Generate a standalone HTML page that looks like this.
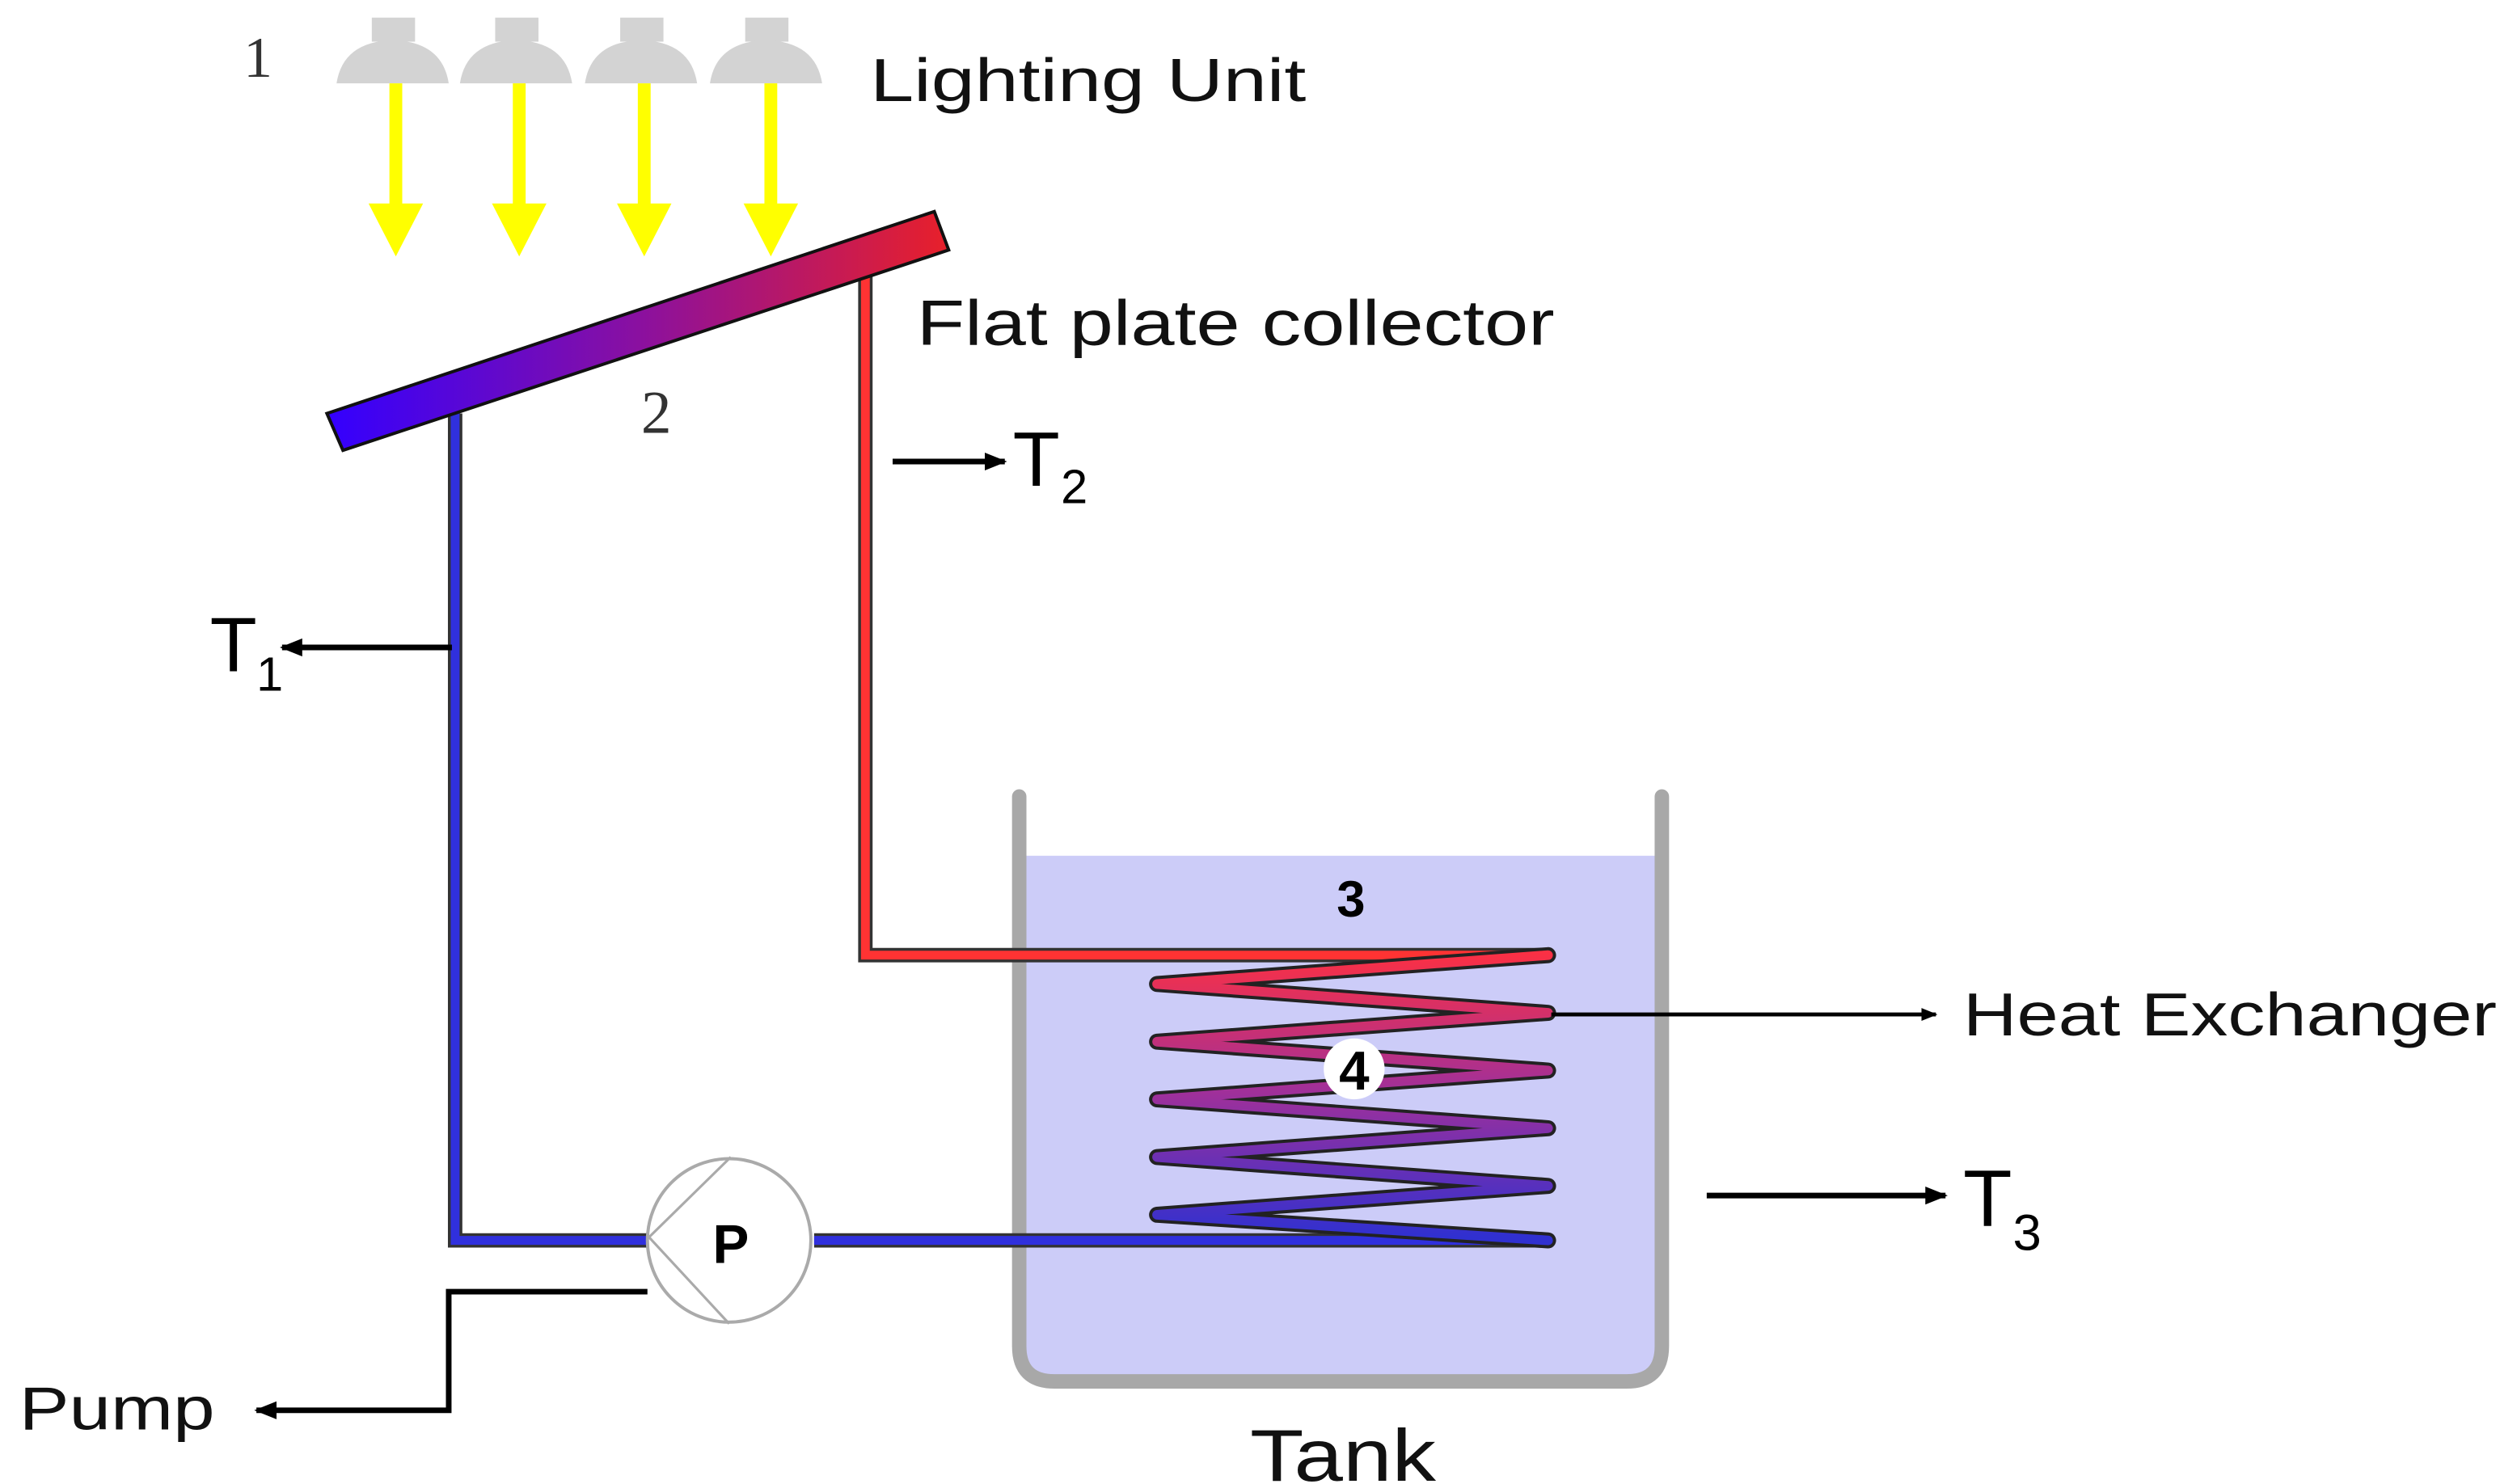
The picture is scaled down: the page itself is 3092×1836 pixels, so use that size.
<!DOCTYPE html>
<html><head><meta charset="utf-8"><style>html,body{margin:0;padding:0;background:#fff}svg{display:block}</style></head>
<body>
<svg width="3092" height="1836" viewBox="0 0 1560 926" preserveAspectRatio="none" xmlns="http://www.w3.org/2000/svg" font-family="Liberation Sans, sans-serif">
<defs>
<linearGradient id="col" x1="204" y1="0" x2="592" y2="0" gradientUnits="userSpaceOnUse"><stop offset="0" stop-color="#3300ff"/><stop offset="0.5" stop-color="#8a10a0"/><stop offset="1" stop-color="#e8202a"/></linearGradient>
<linearGradient id="coil" x1="0" y1="591" x2="0" y2="772" gradientUnits="userSpaceOnUse"><stop offset="0" stop-color="#ff3040"/><stop offset="0.5" stop-color="#a0309a"/><stop offset="1" stop-color="#3030d0"/></linearGradient>
<marker id="ah" viewBox="0 0 10 10" refX="9" refY="5" markerWidth="4" markerHeight="4" orient="auto"><path d="M0,1 L10,5 L0,9 Z" fill="#000"/></marker>
</defs>
<g fill="#d3d3d3">
<rect x="232" y="11" width="27" height="15"/><path d="M210,52 Q214,26 245,25 Q276,26 280,52 Z"/>
<rect x="309" y="11" width="27" height="15"/><path d="M287,52 Q291,26 322,25 Q353,26 357,52 Z"/>
<rect x="387" y="11" width="27" height="15"/><path d="M365,52 Q369,26 400,25 Q431,26 435,52 Z"/>
<rect x="465" y="11" width="27" height="15"/><path d="M443,52 Q447,26 478,25 Q509,26 513,52 Z"/>
</g>
<g fill="#ffff00">
<rect x="243" y="52" width="8" height="76"/><path d="M230,127 L264,127 L247,160 Z"/>
<rect x="320" y="52" width="8" height="76"/><path d="M307,127 L341,127 L324,160 Z"/>
<rect x="398" y="52" width="8" height="76"/><path d="M385,127 L419,127 L402,160 Z"/>
<rect x="477" y="52" width="8" height="76"/><path d="M464,127 L498,127 L481,160 Z"/>
</g>
<text x="152" y="48" font-family="Liberation Serif, serif" font-size="36" fill="#333">1</text>
<text x="543" y="63" font-size="38" fill="#111" textLength="272" lengthAdjust="spacingAndGlyphs">Lighting Unit</text>
<!-- tank -->
<path d="M640,534 L1034,534 L1034,842 Q1034,858 1018,858 L656,858 Q640,858 640,842 Z" fill="#ccccf8"/>
<path d="M636,497 L636,840 Q636,862 658,862 L1015,862 Q1037,862 1037,840 L1037,497" fill="none" stroke="#a8a8a8" stroke-width="9" stroke-linecap="round"/>
<!-- pipes -->
<path d="M540,160 L540,596 L968,596" fill="none" stroke="#333" stroke-width="9"/>
<path d="M540,160 L540,596 L968,596" fill="none" stroke="#ff3333" stroke-width="5.5"/>
<path d="M284,258 L284,774 L404,774 M508,774 L968,774" fill="none" stroke="#333" stroke-width="9"/>
<path d="M284,258 L284,774 L404,774 M508,774 L968,774" fill="none" stroke="#3030dd" stroke-width="5.5"/>
<!-- coil -->
<polyline points="966,596 722,614 966,632 722,650 966,668 722,686 966,704 722,722 966,740 722,758 966,774" fill="none" stroke="#222" stroke-width="10" stroke-linejoin="round" stroke-linecap="round"/>
<polyline points="966,596 722,614 966,632 722,650 966,668 722,686 966,704 722,722 966,740 722,758 966,774" fill="none" stroke="url(#coil)" stroke-width="6" stroke-linejoin="round" stroke-linecap="round"/>
<circle cx="845" cy="667" r="19" fill="#fff"/>
<text x="845" y="680" font-size="34" font-weight="bold" text-anchor="middle">4</text>
<text x="843" y="572" font-size="32" font-weight="bold" text-anchor="middle">3</text>
<!-- collector -->
<path d="M204,258 L583,132 L592,156 L214,281 Z" fill="url(#col)" stroke="#111" stroke-width="2"/>
<text x="400" y="270" font-family="Liberation Serif, serif" font-size="38" fill="#333">2</text>
<text x="572" y="215" font-size="40" fill="#111" textLength="398" lengthAdjust="spacingAndGlyphs">Flat plate collector</text>
<!-- pump -->
<circle cx="455" cy="774" r="51" fill="#fff" stroke="#aaa" stroke-width="2"/>
<path d="M456,722 L405,772 L455,826" fill="none" stroke="#aaa" stroke-width="1.6"/>
<text x="456" y="788" font-size="34" font-weight="bold" text-anchor="middle">P</text>
<path d="M404,806 L280,806 L280,880 L160,880" fill="none" stroke="#000" stroke-width="3.5" marker-end="url(#ah)"/>
<text x="12" y="892" font-size="38" fill="#111" textLength="122" lengthAdjust="spacingAndGlyphs">Pump</text>
<!-- temperature arrows -->
<line x1="282" y1="404" x2="176" y2="404" stroke="#000" stroke-width="3.5" marker-end="url(#ah)"/>
<text x="131" y="419" font-size="48">T</text><text x="160" y="431" font-size="30">1</text>
<line x1="557" y1="288" x2="627" y2="288" stroke="#000" stroke-width="3.5" marker-end="url(#ah)"/>
<text x="632" y="303" font-size="48">T</text><text x="662" y="314" font-size="30">2</text>
<line x1="1065" y1="746" x2="1214" y2="746" stroke="#000" stroke-width="3.5" marker-end="url(#ah)"/>
<text x="1225" y="765" font-size="50">T</text><text x="1256" y="780" font-size="32">3</text>
<line x1="968" y1="633" x2="1208" y2="633" stroke="#000" stroke-width="2.5" marker-end="url(#ah)"/>
<text x="1225" y="646" font-size="38" fill="#111" textLength="333" lengthAdjust="spacingAndGlyphs">Heat Exchanger</text>
<text x="780" y="924" font-size="46" fill="#111" textLength="116" lengthAdjust="spacingAndGlyphs">Tank</text>
</svg>
</body></html>
